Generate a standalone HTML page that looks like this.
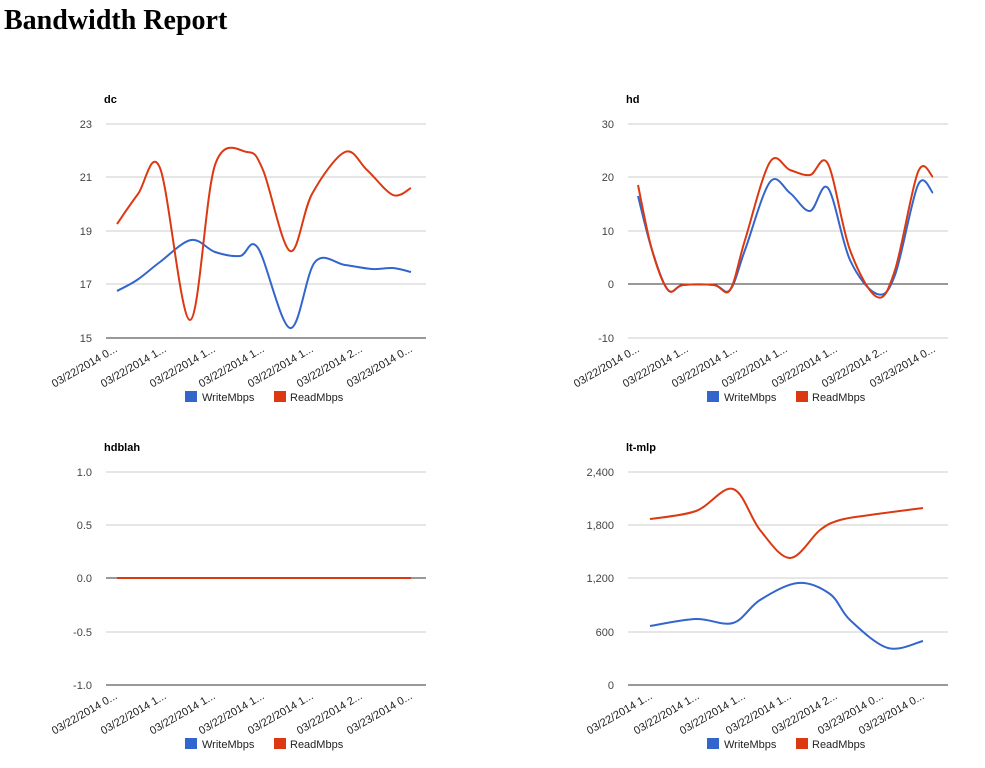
<!DOCTYPE html>
<html><head><meta charset="utf-8"><style>
body{margin:0;background:#fff;width:985px;height:768px;overflow:hidden}
h1{position:absolute;left:4px;top:5px;margin:0;font:bold 28px "Liberation Serif",serif;color:#000}
svg{position:absolute;left:0;top:0}
text{font-family:"Liberation Sans",sans-serif;font-size:11px;fill:#444}
</style></head><body>
<h1>Bandwidth Report</h1>
<svg id="s" width="985" height="768" xmlns="http://www.w3.org/2000/svg"></svg>
<script>
const S=document.getElementById('s');let h='';
function sm(p){let d='M'+p[0][0]+','+p[0][1];for(let i=0;i<p.length-1;i++){const a=p[i-1]||p[i],b=p[i],c=p[i+1],e=p[i+2]||c;
d+=` C${b[0]+(c[0]-a[0])/6},${b[1]+(c[1]-a[1])/6} ${c[0]-(e[0]-b[0])/6},${c[1]-(e[1]-b[1])/6} ${c[0]},${c[1]}`;}return d;}
function chart(x0,x1,title,ys,labs,zero,lblx,series,legx){
 const gy=ys[0][0],bot=ys[ys.length-1][0];h+=`<text x="${x0-2}" y="${gy-21}" style="font-weight:bold;fill:#000">${title}</text>`;
 ys.forEach(([y,t])=>{h+=`<line x1="${x0}" x2="${x1}" y1="${y}" y2="${y}" stroke="${y==zero?'#333':'#ccc'}" stroke-width="1"/><text x="${x0-14}" y="${y+4}" text-anchor="end">${t}</text>`;});
 labs.forEach((t,i)=>{const x=lblx[i];h+=`<text transform="translate(${x},${bot+13}) rotate(-30)" text-anchor="end" style="fill:#222">${t}</text>`;});
 series.forEach(([c,p])=>{h+=`<path d="${sm(p)}" fill="none" stroke="${c}" stroke-width="2"/>`;});
 const ly=bot+53;
 h+=`<rect x="${legx}" y="${ly}" width="12" height="11" fill="#3366cc"/><text x="${legx+17}" y="${ly+10}" style="fill:#222">WriteMbps</text>`;
 h+=`<rect x="${legx+89}" y="${ly}" width="12" height="11" fill="#dc3912"/><text x="${legx+105}" y="${ly+10}" style="fill:#222">ReadMbps</text>`;
}
const A=['03/22/2014 0...','03/22/2014 1...','03/22/2014 1...','03/22/2014 1...','03/22/2014 1...','03/22/2014 2...','03/23/2014 0...'];
const dcx=[118,167,216,265,314,363,413];
chart(106,426,'dc',[[124,23],[177,21],[231,19],[284,17],[338,15]],A,338,dcx,[
['#3366cc',[[117,291],[137,280],[160,262],[191,240],[215,252],[240,256],[258,248],[290,328],[315,262],[345,265],[372,269],[393,268],[411,272]]],
['#dc3912',[[117,224],[138,194],[160,168],[190,320],[215,165],[247,152],[263,170],[290,251],[312,194],[345,152],[367,170],[393,195],[411,188]]]],185);
const hdx=[640,689,738,788,838,888,936];
chart(628,948,'hd',[[124,30],[177,20],[231,10],[284,0],[338,-10]],A,284,hdx,[
['#3366cc',[[638,196],[652,250],[668,290],[683,285],[714,285],[730,290],[745,250],[770,182],[790,193],[810,211],[828,188],[850,260],[877,294],[895,275],[918,185],[933,193]]],
['#dc3912',[[638,185],[652,250],[668,290],[683,285],[714,285],[730,290],[745,240],[770,162],[790,170],[810,175],[828,164],[850,250],[877,297],[895,270],[918,172],[933,177]]]],707);
chart(106,426,'hdblah',[[472,'1.0'],[525,'0.5'],[578,'0.0'],[632,'-0.5'],[685,'-1.0']],A,578,dcx,[
['#3366cc',[[117,578],[411,578]]],['#dc3912',[[117,578],[411,578]]]],185);
h+='<line x1="106" x2="426" y1="685" y2="685" stroke="#333"/>';
const B=['03/22/2014 1...','03/22/2014 1...','03/22/2014 1...','03/22/2014 1...','03/22/2014 2...','03/23/2014 0...','03/23/2014 0...'];
chart(628,948,'lt-mlp',[[472,'2,400'],[525,'1,800'],[578,'1,200'],[632,600],[685,0]],B,685,[653,700,746,792,838,884,925],[
['#3366cc',[[650,626],[696,619],[733,623],[760,600],[798,583],[830,594],[850,620],[888,648],[923,641]]],
['#dc3912',[[650,519],[696,511],[733,489],[760,530],[790,558],[820,530],[840,520],[870,515],[923,508]]]],707);
S.innerHTML=h;
</script>
</body></html>
